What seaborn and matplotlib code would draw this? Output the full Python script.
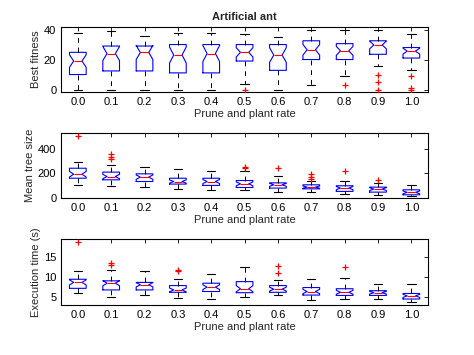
import numpy as np
import pandas as pd
import matplotlib
matplotlib.use('Agg')
import matplotlib.pyplot as plt
import seaborn as sns

###
#   DATA
###
rates = ['0.0', '0.1', '0.2', '0.3', '0.4', '0.5', '0.6', '0.7', '0.8', '0.9', '1.0']
N_RUNS = 31

# best fitness
fit_lo = [0, 0, 0, 0, 0, 4, 0, 3, 9, 16, 13]
fit_q1 = [10, 12.4, 12.4, 11.1, 11.1, 19, 12.8, 20, 20, 23.5, 21]
fit_med = [19, 24, 24.7, 23, 24, 24.8, 23, 26.5, 25.8, 29.7, 25.6]
fit_q3 = [24.8, 29, 29, 30, 30, 30, 30, 32.5, 30.6, 32.5, 28]
fit_hi = [37.5, 39, 36, 38, 38, 37, 35, 40, 40, 40, 37]
fit_out_rate = ['0.5', '0.8', '0.9', '0.9', '0.9', '1.0', '1.0', '1.0']
fit_out_val = [0, 3, 10, 5, 0, 9, 1, 0]

# mean tree size
size_lo = [101, 98, 87, 73, 65, 60, 46, 44, 33, 24, 11]
size_q1 = [160, 147, 133, 112, 101, 84, 79, 73, 52, 46, 24]
size_med = [193, 174, 169, 133, 133, 114, 106, 87, 79, 71, 44]
size_q3 = [242, 210, 196, 160, 160, 141, 122, 106, 98, 87, 65]
size_hi = [297, 269, 256, 234, 220, 223, 177, 140, 141, 117, 101]
size_out_rate = ['0.0', '0.1', '0.1', '0.1', '0.5', '0.5', '0.6', '0.7', '0.7', '0.7', '0.8', '0.9']
size_out_val = [509, 359, 337, 318, 255, 243, 242, 193, 172, 152, 223, 142]

# execution time
time_lo = [6.0, 5.0, 5.3, 4.7, 4.4, 5.0, 5.3, 4.2, 4.3, 4.3, 3.7]
time_q1 = [7.1, 6.7, 6.7, 6.1, 6.3, 6.0, 6.1, 5.4, 5.3, 5.3, 4.4]
time_med = [8.6, 8.4, 8.0, 6.7, 7.4, 7.0, 6.9, 6.3, 6.1, 6.0, 5.2]
time_q3 = [9.4, 9.0, 8.6, 7.8, 8.4, 8.8, 7.8, 7.3, 7.0, 6.5, 5.8]
time_hi = [11.6, 11.8, 11.4, 9.5, 10.8, 12.5, 9.1, 9.5, 9.7, 8.2, 8.2]
time_out_rate = ['0.0', '0.1', '0.1', '0.3', '0.3', '0.6', '0.6', '0.8']
time_out_val = [18.8, 13.4, 12.9, 11.8, 11.4, 12.8, 10.9, 12.4]

###
#   STYLE
###
sns.set_theme(style='white')
plt.rcParams['font.family'] = ['Liberation Sans', 'DejaVu Sans']
FS = 8


def runs_table(lo, q1, med, q3, hi):
    # one row per run, built so the quartiles land on the read values
    m = (N_RUNS - 3) // 2
    rows = []
    for r, a, b, c, d, e in zip(rates, lo, q1, med, q3, hi):
        for v in [a] + [b] * m + [c] + [d] * m + [e]:
            rows.append((r, v))
    return pd.DataFrame(rows, columns=['rate', 'value'])


def draw_panel(ax, stats, out_rate, out_val, ylabel, ylim, yticks):
    df = runs_table(*stats)
    sns.boxplot(data=df, x='rate', y='value', order=rates, ax=ax,
                notch=True, whis=(0, 100), showfliers=False, fill=False,
                color='blue', width=0.5, linewidth=0.8,
                boxprops=dict(color='blue', linewidth=0.8),
                medianprops=dict(color='red', linewidth=0.8),
                whiskerprops=dict(color='black', linestyle=(0, (5, 5)), linewidth=0.7),
                capprops=dict(color='black', linewidth=0.8))
    out = pd.DataFrame({'rate': out_rate, 'value': out_val})
    sns.stripplot(data=out, x='rate', y='value', order=rates, ax=ax,
                  jitter=False, marker='+', color='red', size=5, linewidth=0.9)
    ax.set_xlim(-0.5, 10.5)
    ax.set_ylim(*ylim)
    ax.set_yticks(yticks)
    ax.set_xticks(range(len(rates)))
    ax.set_xticklabels(rates)
    ax.set_xlabel('Prune and plant rate', fontsize=FS, labelpad=1.5)
    ax.set_ylabel(ylabel, fontsize=FS, labelpad=2)
    ax.tick_params(direction='in', top=True, right=True, length=3, width=0.6,
                   labelsize=FS, pad=3.5, colors='black')
    for s in ax.spines.values():
        s.set_visible(True)
        s.set_color('black')
        s.set_linewidth(0.8)


###
#   FIGURE
###
fig = plt.figure(figsize=(4.74, 3.55), dpi=100)
ax1 = fig.add_axes([0.129, 0.741, 0.774, 0.183])
ax2 = fig.add_axes([0.129, 0.442, 0.774, 0.183])
ax3 = fig.add_axes([0.129, 0.141, 0.774, 0.186])

draw_panel(ax1, (fit_lo, fit_q1, fit_med, fit_q3, fit_hi), fit_out_rate, fit_out_val,
           'Best fitness', (-1.6, 41.7), [0, 20, 40])
draw_panel(ax2, (size_lo, size_q1, size_med, size_q3, size_hi), size_out_rate, size_out_val,
           'Mean tree size', (-3, 530), [0, 200, 400])
draw_panel(ax3, (time_lo, time_q1, time_med, time_q3, time_hi), time_out_rate, time_out_val,
           'Execution time (s)', (2.9, 19.6), [5, 10, 15])

ax1.set_title('Artificial ant', fontsize=FS, fontweight='bold', pad=5)

fig.savefig('out.png', dpi=100)
